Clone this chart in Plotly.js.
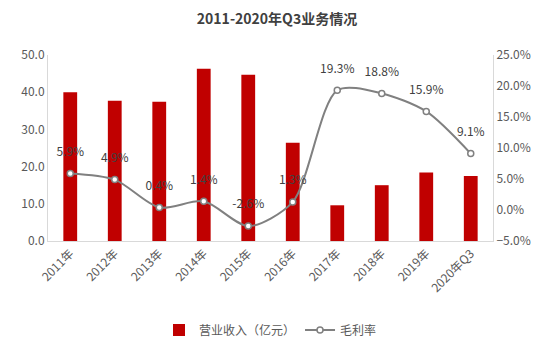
<!DOCTYPE html>
<html><head><meta charset="utf-8">
<script src="https://cdn.plot.ly/plotly-3.0.1.min.js"></script>
<style>html,body{margin:0;padding:0;background:#fff}#c{width:554px;height:355px}</style>
</head><body><div id="c"></div>
<script>
var categories = ['2011年','2012年','2013年','2014年','2015年','2016年','2017年','2018年','2019年','2020年Q3'];
var revenue = [40.0, 37.7, 37.4, 46.3, 44.7, 26.4, 9.6, 15.0, 18.4, 17.5];
var margin = [0.059, 0.049, 0.004, 0.014, -0.026, 0.013, 0.193, 0.188, 0.159, 0.091];
var leftTicks = [0, 10, 20, 30, 40, 50];
var rightTicks = [-0.05, 0, 0.05, 0.10, 0.15, 0.20, 0.25];

var font = 'Noto Sans CJK SC, Noto Sans, sans-serif';
var labels = margin.map(function(v){return (v*100).toFixed(1)+'%';});
var traces = [
  {type:'bar', x:categories, y:revenue, name:'营业收入（亿元）',
   marker:{color:'#c00000'}, yaxis:'y'},
  {type:'scatter', mode:'lines+markers', x:categories, y:margin, name:'毛利率', yaxis:'y2',
   line:{color:'#808080', width:2, shape:'spline', smoothing:0.8},
   marker:{symbol:'circle', size:6, color:'#ffffff', line:{color:'#808080', width:1.5}}},
  {type:'scatter', mode:'markers+text', x:categories, y:margin, yaxis:'y2', showlegend:false,
   hoverinfo:'skip', marker:{size:22, color:'rgba(0,0,0,0)'},
   text: labels, textposition:'top center', textfont:{size:12, color:'#404040', family:font},
   cliponaxis:false}
];
var layout = {
  width:554, height:355,
  margin:{l:48, r:61, t:55, b:113},
  paper_bgcolor:'#fff', plot_bgcolor:'#fff',
  font:{family:font, size:12, color:'#595959'},
  title:{text:'<b>2011-2020年Q3业务情况</b>', x:0.5, xanchor:'center', y:0.945, yanchor:'middle',
         font:{size:14, color:'#404040', family:font}},
  bargap:0.69,
  showlegend:true,
  legend:{orientation:'h', x:0.5, xanchor:'center', y:-0.47, yanchor:'middle', font:{size:12, color:'#595959'}},
  xaxis:{type:'category', range:[-0.5, 9.5], autorange:false, tickangle:-45, showgrid:false, showline:true,
         linecolor:'#d9d9d9', linewidth:1, ticks:'', tickfont:{size:12, color:'#595959'}},
  yaxis:{range:[0,50], tickvals:leftTicks, tickformat:'.1f', showgrid:false, zeroline:false,
         showline:true, linecolor:'#d9d9d9', ticks:'', tickfont:{size:12, color:'#595959'}},
  yaxis2:{range:[-0.05,0.25], tickvals:rightTicks, tickformat:'.1%', overlaying:'y', side:'right',
          showgrid:false, zeroline:false, showline:true, linecolor:'#d9d9d9', ticks:'',
          tickfont:{size:12, color:'#595959'}}
};
Plotly.newPlot('c', traces, layout, {displayModeBar:false, staticPlot:true});
</script></body></html>
